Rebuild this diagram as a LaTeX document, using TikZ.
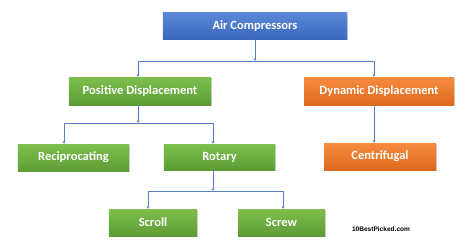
\documentclass[tikz,border=0pt]{standalone}
\usepackage{fontspec}
\setmainfont{Carlito}
\newfontfamily\markfont{Liberation Sans}
\usepackage{tikz}
\usetikzlibrary{calc,positioning,shadows,arrows.meta}

\begin{document}
\begin{tikzpicture}[x=0.03cm,y=-0.03cm,
    box/.style={draw=none,inner sep=0pt,font=\fontsize{10.7}{12}\selectfont\bfseries,text=white,
        drop shadow={opacity=0.35,shadow xshift=0.8pt,shadow yshift=-1.2pt}},
    bluebox/.style={box,top color=boxBlueT,bottom color=boxBlueB},
    greenbox/.style={box,top color=boxGreenT,bottom color=boxGreenB},
    orangebox/.style={box,top color=boxOrangeT,bottom color=boxOrangeB},
    link/.style={draw=lineBlue,line width=0.55pt,-{Stealth[length=2.4pt,width=2.4pt]}}]
            \definecolor{boxBlueT}{HTML}{5A88D8}
            \definecolor{boxBlueB}{HTML}{3B67BC}
            \definecolor{boxGreenT}{HTML}{7EBF4E}
            \definecolor{boxGreenB}{HTML}{5D9C34}
            \definecolor{boxOrangeT}{HTML}{F68B3E}
            \definecolor{boxOrangeB}{HTML}{DF6A1F}
            \definecolor{lineBlue}{HTML}{5A7FC8}

            \useasboundingbox (0,0) rectangle (474,251);

            % boxes
            \node[bluebox,minimum width=5.52cm,minimum height=0.78cm] (air) at (255,26) {Air Compressors};
            \node[greenbox,minimum width=4.26cm,minimum height=0.84cm] (posdisp) at (140,91) {Positive Displacement};
            \node[orangebox,minimum width=4.5cm,minimum height=0.84cm] (dyndisp) at (379,91) {Dynamic Displacement};
            \node[greenbox,minimum width=3.33cm,minimum height=0.81cm] (recip) at (73.5,157.5) {Reciprocating};
            \node[greenbox,minimum width=3.33cm,minimum height=0.78cm] (rotary) at (219.5,157) {Rotary};
            \node[orangebox,minimum width=3.36cm,minimum height=0.81cm] (centri) at (380,156.5) {Centrifugal};
            \node[greenbox,minimum width=2.64cm,minimum height=0.81cm] (scroll) at (153,222.5) {Scroll};
            \node[greenbox,minimum width=2.61cm,minimum height=0.81cm] (screw) at (281.5,222.5) {Screw};
            \node[font=\markfont\fontsize{5.6}{6}\selectfont\bfseries] (mark) at (381,229) {10BestPicked.com};

            % junctions
            \coordinate (jtop) at (255,61);
            \coordinate (jpos) at (138,123);
            \coordinate (jrot) at (213,191);

            % connectors
            \draw[link] (air.south) -- (jtop);
            \draw[link] (jtop) -| (138,0 |- posdisp.north);
            \draw[link] (jtop) -| (374,0 |- dyndisp.north);
            \draw[link] (posdisp.south -| jpos) -- (jpos);
            \draw[link] (jpos) -| (64,0 |- recip.north);
            \draw[link] (jpos) -| (213,0 |- rotary.north);
            \draw[link] (dyndisp.south -| 374,0) -- (374,0 |- centri.north);
            \draw[link] (rotary.south -| jrot) -- (jrot);
            \draw[link] (jrot) -| (148,0 |- scroll.north);
            \draw[link] (jrot) -| (283,0 |- screw.north);
        \end{tikzpicture}
\end{document}
